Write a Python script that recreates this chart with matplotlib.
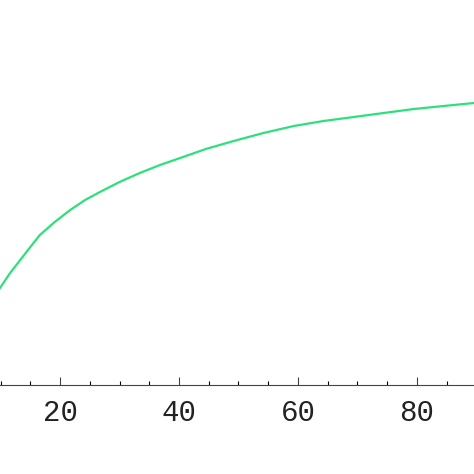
import matplotlib.pyplot as plt
import numpy as np

x = [9.9, 11.6, 13.3, 15.0, 16.6, 19.1, 21.7, 24.2, 26.7, 30.0, 33.4, 36.8, 40.2,
     44.5, 49.2, 54.2, 59.3, 64.3, 69.4, 74.4, 79.5, 84.5, 89.6]
y = [97, 112, 125, 138, 150, 163, 175, 185, 193, 203, 212, 220, 227,
     236, 244, 252, 259, 264, 268, 272, 276, 279, 282]

fig = plt.figure(figsize=(4.74, 4.74), dpi=100)
ax = fig.add_axes([0, 89 / 474, 1, 385 / 474])
ax.plot(x, y, color='#2ee07a', linewidth=1.6)
ax.set_xlim(9.9, 89.6)
ax.set_ylim(0, 385)
for s in ['top', 'left', 'right']:
    ax.spines[s].set_visible(False)
ax.spines['bottom'].set_color('#444444')
ax.set_yticks([])
ax.set_xticks([20, 40, 60, 80])
ax.set_xticks(np.arange(10, 90, 5), minor=True)
ax.tick_params(axis='x', direction='in', length=6, width=0.8, colors='#444444',
               labelsize=21, labelcolor='#222222', pad=10)
ax.tick_params(axis='x', which='minor', direction='in', length=3, width=0.8)
for lab in ax.get_xticklabels():
    lab.set_family('Liberation Mono')
plt.savefig('out.png', dpi=100)
